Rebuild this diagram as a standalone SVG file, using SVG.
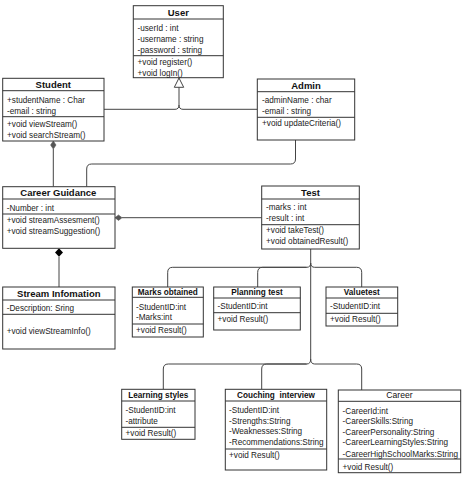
<svg xmlns="http://www.w3.org/2000/svg" width="474" height="478" viewBox="0 0 474 478">
<style>
.box{fill:#fff;stroke:#333;stroke-width:1}
.sep{stroke:#333;stroke-width:1}
.t{font-family:"Liberation Sans",Arial,sans-serif;font-size:8.2px;fill:#222}
.h{font-family:"Liberation Sans",Arial,sans-serif;font-size:9.5px;font-weight:bold;fill:#111;text-anchor:middle}
.hs{font-family:"Liberation Sans",Arial,sans-serif;font-size:8.2px;font-weight:bold;fill:#111;text-anchor:middle}
.hn{font-family:"Liberation Sans",Arial,sans-serif;font-size:8.6px;fill:#111;text-anchor:middle}
.ln{fill:none;stroke:#444;stroke-width:1}
</style>
<rect width="474" height="478" fill="#fff"/>
<g id="connectors">
  <polygon points="179,78 174.3,87.3 183.7,87.3" fill="#fff" stroke="#444"/>
  <path class="ln" d="M179,87.3 V105"/>
  <path class="ln" d="M104,109.3 H175 Q179,109.3 179,105 Q179,109.3 183,109.3 H257.3"/>
  <polygon points="53.3,141 56,145 53.3,149 50.6,145" fill="#555" stroke="#555" stroke-width="0.6"/>
  <path class="ln" d="M53.3,149 V186.7"/>
  <path class="ln" d="M295.5,140 V159 Q295.5,164 290.5,164 H91.7 Q86.7,164 86.7,169 V186.7"/>
  <polygon points="115,217.7 118.5,215 122,217.7 118.5,220.4" fill="#555" stroke="#555" stroke-width="0.6"/>
  <path class="ln" d="M122,217.7 H261.7"/>
  <polygon points="59,248.3 63,252.5 59,256.7 55,252.5" fill="#000"/>
  <path class="ln" d="M59,256.7 V287"/>
  <path class="ln" d="M310.7,249 V359"/>
  <path class="ln" d="M310.7,263 Q310.7,267.3 306.7,267.3 H172.7 Q167.7,267.3 167.7,272.3 V287"/>
  <path class="ln" d="M306.7,267.3 H262.7 Q257.7,267.3 257.7,272.3 V287"/>
  <path class="ln" d="M310.7,263 Q310.7,267.3 314.7,267.3 H356.7 Q361.7,267.3 361.7,272.3 V287"/>
  <path class="ln" d="M310.7,359 Q310.7,364 306.7,364 H168.3 Q163.3,364 163.3,369 V389.3"/>
  <path class="ln" d="M306.7,364 H266.7 Q261.7,364 261.7,369 V389.3"/>
  <path class="ln" d="M310.7,359 Q310.7,364 314.7,364 H356.7 Q361.7,364 361.7,369 V390"/>
</g>
<g id="user">
  <rect class="box" x="133.3" y="5.7" width="90" height="72"/>
  <line class="sep" x1="133.3" y1="19" x2="223.3" y2="19"/>
  <line class="sep" x1="133.3" y1="55.7" x2="223.3" y2="55.7"/>
  <text class="h" x="178.3" y="15.7">User</text>
  <text class="t" x="137.5" y="31.3">-userId : int</text>
  <text class="t" x="137.5" y="42">-username : string</text>
  <text class="t" x="137.5" y="53">-password : string</text>
  <text class="t" x="137.5" y="65">+void register()</text>
  <text class="t" x="137.5" y="76">+void logIn()</text>
</g>
<g id="student">
  <rect class="box" x="2.7" y="78.3" width="101.3" height="62.7"/>
  <line class="sep" x1="2.7" y1="90.7" x2="104" y2="90.7"/>
  <line class="sep" x1="2.7" y1="116.7" x2="104" y2="116.7"/>
  <text class="h" x="53.3" y="88">Student</text>
  <text class="t" x="7" y="103.3">+studentName : Char</text>
  <text class="t" x="7" y="114.3">-email : string</text>
  <text class="t" x="7" y="127">+void viewStream()</text>
  <text class="t" x="7" y="138">+void searchStream()</text>
</g>
<g id="admin">
  <rect class="box" x="257.3" y="79" width="97.4" height="61"/>
  <line class="sep" x1="257.3" y1="91.7" x2="354.7" y2="91.7"/>
  <line class="sep" x1="257.3" y1="117.3" x2="354.7" y2="117.3"/>
  <text class="h" x="306" y="88.5">Admin</text>
  <text class="t" x="262" y="102.7">-adminName : char</text>
  <text class="t" x="262" y="114">-email : string</text>
  <text class="t" x="262" y="126.3">+void updateCriteria()</text>
</g>
<g id="career-guidance">
  <rect class="box" x="2.7" y="186.7" width="112.3" height="61.6"/>
  <line class="sep" x1="2.7" y1="199" x2="115" y2="199"/>
  <line class="sep" x1="2.7" y1="214" x2="115" y2="214"/>
  <text class="h" x="58.3" y="196">Career Guidance</text>
  <text class="t" x="6.7" y="210.7">-Number : int</text>
  <text class="t" x="6.7" y="223.3">+void streamAssesment()</text>
  <text class="t" x="6.7" y="233.7">+void streamSuggestion()</text>
</g>
<g id="test">
  <rect class="box" x="261.7" y="186" width="97.6" height="63"/>
  <line class="sep" x1="261.7" y1="199" x2="359.3" y2="199"/>
  <line class="sep" x1="261.7" y1="224.7" x2="359.3" y2="224.7"/>
  <text class="h" x="310.5" y="195.5">Test</text>
  <text class="t" x="266" y="209.7">-marks : int</text>
  <text class="t" x="266" y="220.7">-result : int</text>
  <text class="t" x="266" y="233.3">+void takeTest()</text>
  <text class="t" x="266" y="244">+void obtainedResult()</text>
</g>
<g id="stream-infomation">
  <rect class="box" x="2.7" y="287" width="112.3" height="62"/>
  <line class="sep" x1="2.7" y1="300" x2="115" y2="300"/>
  <line class="sep" x1="2.7" y1="314.3" x2="115" y2="314.3"/>
  <text class="h" x="58.8" y="297">Stream Infomation</text>
  <text class="t" x="6.7" y="310.7">-Description: Sring</text>
  <text class="t" x="6.7" y="334">+void viewStreamInfo()</text>
</g>
<g id="marks-obtained">
  <rect class="box" x="132.3" y="287" width="71" height="50"/>
  <line class="sep" x1="132.3" y1="297.3" x2="203.3" y2="297.3"/>
  <line class="sep" x1="132.3" y1="324" x2="203.3" y2="324"/>
  <text class="hs" x="167.8" y="295">Marks obtained</text>
  <text class="t" x="136" y="309.7">-StudentID:int</text>
  <text class="t" x="136" y="320">-Marks:int</text>
  <text class="t" x="136" y="333.3">+void Result()</text>
</g>
<g id="planning-test">
  <rect class="box" x="213.7" y="287" width="86.6" height="43"/>
  <line class="sep" x1="213.7" y1="298" x2="300.3" y2="298"/>
  <line class="sep" x1="213.7" y1="312.7" x2="300.3" y2="312.7"/>
  <text class="hs" x="257" y="295.3">Planning test</text>
  <text class="t" x="217.5" y="309.3">-StudentID:int</text>
  <text class="t" x="217.5" y="321.7">+void Result()</text>
</g>
<g id="valuetest">
  <rect class="box" x="326" y="287" width="71.7" height="39"/>
  <line class="sep" x1="326" y1="298" x2="397.7" y2="298"/>
  <line class="sep" x1="326" y1="313.3" x2="397.7" y2="313.3"/>
  <text class="hs" x="361.8" y="295.3">Valuetest</text>
  <text class="t" x="330" y="309.3">-StudentID:int</text>
  <text class="t" x="330" y="321.7">+void Result()</text>
</g>
<g id="learning-styles">
  <rect class="box" x="121.7" y="389.3" width="73.3" height="50"/>
  <line class="sep" x1="121.7" y1="401" x2="195" y2="401"/>
  <line class="sep" x1="121.7" y1="427.3" x2="195" y2="427.3"/>
  <text class="hs" x="158.3" y="398">Learning styles</text>
  <text class="t" x="125.5" y="413.3">-StudentID:int</text>
  <text class="t" x="125.5" y="423.7">-attribute</text>
  <text class="t" x="125.5" y="436">+void Result()</text>
</g>
<g id="couching-interview">
  <rect class="box" x="225.3" y="389.3" width="101.4" height="80.7"/>
  <line class="sep" x1="225.3" y1="401" x2="326.7" y2="401"/>
  <line class="sep" x1="225.3" y1="449" x2="326.7" y2="449"/>
  <text class="hs" x="276" y="398" xml:space="preserve">Couching  interview</text>
  <text class="t" x="229" y="413.3">-StudentID:int</text>
  <text class="t" x="229" y="423.7">-Strengths:String</text>
  <text class="t" x="229" y="433.7">-Weaknesses:String</text>
  <text class="t" x="229" y="444.7">-Recommendations:String</text>
  <text class="t" x="229" y="458.3">+void Result()</text>
</g>
<g id="career">
  <rect class="box" x="338.3" y="390" width="122.4" height="82.7"/>
  <line class="sep" x1="338.3" y1="401.3" x2="460.7" y2="401.3"/>
  <line class="sep" x1="338.3" y1="459" x2="460.7" y2="459" stroke-width="1.5"/>
  <text class="hn" x="399.5" y="398.3">Career</text>
  <text class="t" x="342.5" y="414">-CareerId:int</text>
  <text class="t" x="342.5" y="424">-CareerSkills:String</text>
  <text class="t" x="342.5" y="434.7">-CareerPersonality:String</text>
  <text class="t" x="342.5" y="445.3">-CareerLearningStyles:String</text>
  <text class="t" x="342.5" y="457">-CareerHighSchoolMarks:String</text>
  <text class="t" x="342.5" y="469.7">+void Result()</text>
</g>
</svg>
